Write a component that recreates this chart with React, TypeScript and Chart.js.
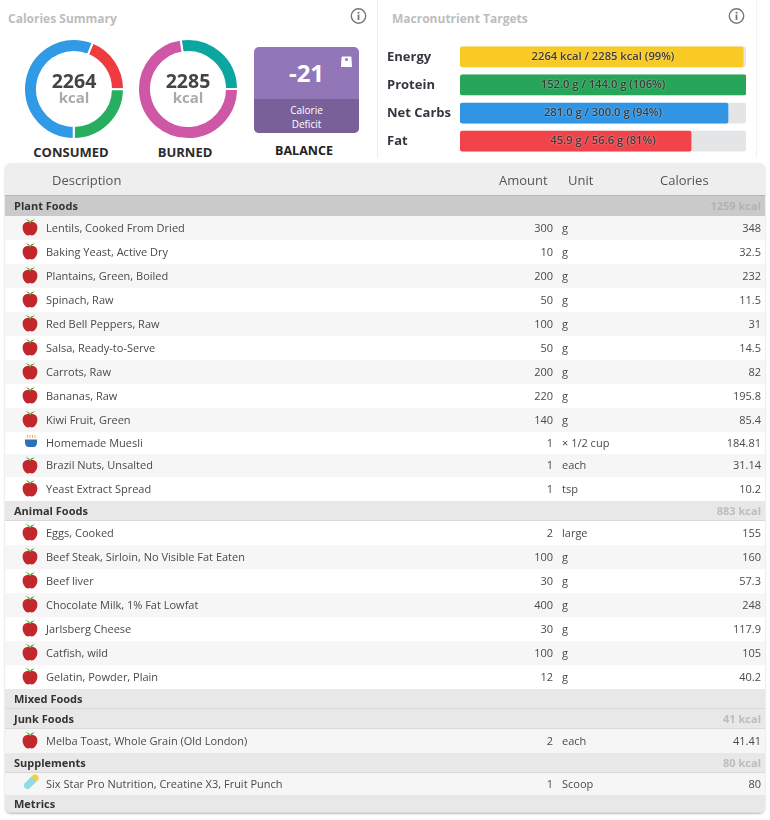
import React, { useEffect, useRef } from "react";
import { Chart, registerables } from "chart.js";

Chart.register(...registerables);

const FONT = '"Open Sans", sans-serif';

// donuts
const consumedLabels = ["Fat", "Protein", "Net Carbs"];
const consumedValues = [430, 566, 1268];
const consumedColors = ["#ef3b3f", "#29ae60", "#309ae6"];
const burnedLabels = ["Activity", "Resting"];
const burnedValues = [625, 1660];
const burnedColors = ["#0ca6a0", "#cf58a6"];

// macro targets
const macroLabels = ["Energy", "Protein", "Net Carbs", "Fat"];
const macroPercents = [99, 100, 93.7, 80.8];
const macroTrack = [100, 100, 100, 100];
const macroTexts = [
  "2264 kcal / 2285 kcal (99%)",
  "152.0 g / 144.0 g (106%)",
  "281.0 g / 300.0 g (94%)",
  "45.9 g / 56.6 g (81%)",
];
const macroColors = ["#f9ca24", "#27a558", "#3095e5", "#f0434a"];

// table: description, amount, unit, calories
type Food = [string, string, string, string, string?];
const plantFoods: Food[] = [
  ["Lentils, Cooked From Dried", "300", "g", "348"],
  ["Baking Yeast, Active Dry", "10", "g", "32.5"],
  ["Plantains, Green, Boiled", "200", "g", "232"],
  ["Spinach, Raw", "50", "g", "11.5"],
  ["Red Bell Peppers, Raw", "100", "g", "31"],
  ["Salsa, Ready-to-Serve", "50", "g", "14.5"],
  ["Carrots, Raw", "200", "g", "82"],
  ["Bananas, Raw", "220", "g", "195.8"],
  ["Kiwi Fruit, Green", "140", "g", "85.4"],
  ["Homemade Muesli", "1", "× 1/2 cup", "184.81", "bowl"],
  ["Brazil Nuts, Unsalted", "1", "each", "31.14"],
  ["Yeast Extract Spread", "1", "tsp", "10.2"],
];
const animalFoods: Food[] = [
  ["Eggs, Cooked", "2", "large", "155"],
  ["Beef Steak, Sirloin, No Visible Fat Eaten", "100", "g", "160"],
  ["Beef liver", "30", "g", "57.3"],
  ["Chocolate Milk, 1% Fat Lowfat", "400", "g", "248"],
  ["Jarlsberg Cheese", "30", "g", "117.9"],
  ["Catfish, wild", "100", "g", "105"],
  ["Gelatin, Powder, Plain", "12", "g", "40.2"],
];
const mixedFoods: Food[] = [];
const junkFoods: Food[] = [["Melba Toast, Whole Grain (Old London)", "2", "each", "41.41"]];
const supplements: Food[] = [["Six Star Pro Nutrition, Creatine X3, Fruit Punch", "1", "Scoop", "80", "pill"]];
const metrics: Food[] = [];

const sections: [string, string, Food[]][] = [
  ["Plant Foods", "1259 kcal", plantFoods],
  ["Animal Foods", "883 kcal", animalFoods],
  ["Mixed Foods", "", mixedFoods],
  ["Junk Foods", "41 kcal", junkFoods],
  ["Supplements", "80 kcal", supplements],
  ["Metrics", "", metrics],
];

const box = (x: number, y: number, w: number, h: number): React.CSSProperties => ({
  position: "absolute",
  left: x,
  top: y,
  width: w,
  height: h,
});

const Donut = ({ x, labels, values, colors, rotation, total }: any) => {
  const canvas = useRef<HTMLCanvasElement>(null!);

  useEffect(() => {
    const chart = new Chart(canvas.current, {
      type: "doughnut",
      data: {
        labels,
        datasets: [{ data: values, backgroundColor: colors, borderColor: "#fff", borderWidth: 2 }],
      },
      options: {
        animation: false,
        responsive: false,
        rotation,
        cutout: "74%",
        layout: { padding: 0 },
        plugins: { legend: { display: false }, tooltip: { enabled: false } },
      },
      plugins: [
        {
          id: "centerText",
          afterDatasetsDraw(c: any) {
            const { ctx } = c;
            const arc = c.getDatasetMeta(0).data[0];
            ctx.save();
            ctx.textAlign = "center";
            ctx.textBaseline = "middle";
            ctx.font = `700 19.5px ${FONT}`;
            ctx.fillStyle = "#444";
            ctx.fillText(total, arc.x, arc.y - 6.5);
            ctx.font = `700 15px ${FONT}`;
            ctx.fillStyle = "#aaa";
            ctx.fillText("kcal", arc.x, arc.y + 10);
            ctx.restore();
          },
        },
      ],
    });
    return () => chart.destroy();
  }, []);

  return <canvas ref={canvas} width={102} height={102} style={{ ...box(x - 51, 38, 102, 102) }} />;
};

const barText = {
  id: "barText",
  afterDatasetsDraw(c: any) {
    const { ctx, chartArea, scales } = c;
    ctx.save();
    ctx.font = `600 11.2px ${FONT}`;
    ctx.fillStyle = "#3a3a3a";
    ctx.textAlign = "center";
    ctx.textBaseline = "middle";
    ctx.shadowColor = "rgba(255,255,255,0.6)";
    ctx.shadowBlur = 2;
    macroTexts.forEach((t, i) => {
      ctx.fillText(t, (chartArea.left + chartArea.right) / 2, scales.y.getPixelForValue(i));
    });
    ctx.restore();
  },
};

const MacroBars = () => {
  const canvas = useRef<HTMLCanvasElement>(null!);

  useEffect(() => {
    const chart = new Chart(canvas.current, {
      type: "bar",
      data: {
        labels: macroLabels,
        datasets: [
          { data: macroPercents, backgroundColor: macroColors, borderRadius: { topLeft: 3, bottomLeft: 3, topRight: 2, bottomRight: 2 }, borderSkipped: false, barThickness: 20 },
          { data: macroTrack, backgroundColor: "#e4e5e7", borderRadius: 3, borderSkipped: false, barThickness: 20 },
        ],
      },
      options: {
        animation: false,
        responsive: false,
        indexAxis: "y",
        layout: { padding: 0 },
        datasets: { bar: { grouped: false } },
        scales: {
          x: { display: false, min: 0, max: 100 },
          y: {
            grid: { display: false },
            border: { display: false },
            afterFit: (s: any) => {
              s.width = 73;
            },
            ticks: {
              crossAlign: "far",
              padding: 0,
              color: "#3a3440",
              font: { family: FONT, size: 13, weight: "bold" },
            },
          },
        },
        plugins: { legend: { display: false }, tooltip: { enabled: false } },
      } as any,
      plugins: [barText],
    });
    return () => chart.destroy();
  }, []);

  // the y scale keeps half a label of padding above and below, hence the taller canvas
  return <canvas ref={canvas} width={359} height={128} style={box(387, 35, 359, 128)} />;
};

const InfoIcon = ({ x }: { x: number }) => (
  <svg style={box(x, 8, 17, 17)} viewBox="0 0 17 17">
    <circle cx="8.5" cy="8" r="7.2" fill="none" stroke="#777" strokeWidth="1.4" />
    <rect x="7.6" y="6.600" width="1.8" height="5.400" fill="#777" />
    <rect x="7.6" y="3.800" width="1.8" height="1.800" fill="#777" />
  </svg>
);

const FoodIcon = ({ kind }: { kind?: string }) => {
  if (kind === "bowl")
    return (
      <svg width="16" height="16" viewBox="0 0 16 16" style={{ position: "absolute", left: 18, top: 2 }}>
        <path d="M4.500 1v3M7 1v3M9.500 1v3M12 1v3" stroke="#f0b04a" strokeWidth="1" />
        <path d="M2 5.500h12v3c0 3-2 4.500-3 4.500H5c-1 0-3-1.500-3-4.500z" fill="#2f6fb5" />
      </svg>
    );
  if (kind === "pill")
    return (
      <svg width="18" height="16" viewBox="0 0 18 16" style={{ position: "absolute", left: 17, top: 1 }}>
        <path d="M10 7L13 4" stroke="#f7cf3d" strokeWidth="7" strokeLinecap="round" />
        <path d="M5.500 11.500L9.500 7.500" stroke="#8fdde0" strokeWidth="7" strokeLinecap="round" />
      </svg>
    );
  return (
    <svg width="16" height="18" viewBox="0 0 16 18" style={{ position: "absolute", left: 17, top: 2 }}>
      <path d="M8 4.500C5 3.300 .6 4.800 .6 9.500 .6 14 4 17.500 6 17.500c1 0 1.300-.5 2-.5s1 .5 2 .5c2 0 5.400-3.500 5.400-8C15.400 4.800 11 3.300 8 4.500z" fill="#c1272d" />
      <path d="M8 5.200L3.500 .6 7 2.400 8 3.800 9.500 2.200 13 1.200z" fill="#5aa02c" />
    </svg>
  );
};

const Table = () => {
  const rows: React.ReactNode[] = [];
  let n = 0;
  let top = 33;
  sections.forEach(([name, total, foods], s) => {
    const h = name === "Metrics" ? 18 : 20;
    rows.push(
      <div
        key={name}
        style={{
          ...box(0, top, 760, h),
          background: s === 0 ? "#cacaca" : "#e8e8e8",
          borderBottom: s === 0 ? "none" : "1px solid #d9d9d9",
          boxSizing: "border-box",
          fontSize: 11,
          fontWeight: 700,
          lineHeight: `${h - 1}px`,
          color: "#333",
        }}
      >
        <span style={{ position: "absolute", left: 9 }}>{name}</span>
        <span style={{ position: "absolute", right: 4, color: s === 0 ? "#b2b2b2" : "#bdbdbd" }}>{total}</span>
      </div>
    );
    top += h;
    n++;
    foods.forEach(([desc, amount, unit, cal, icon]) => {
      const rowH = icon ? 22 : desc.startsWith("Brazil") ? 23 : 24;
      rows.push(
        <div
          key={desc}
          style={{
            ...box(0, top, 760, rowH),
            background: n % 2 === 0 ? "#ffffff" : "#f6f6f6",
            fontSize: 11,
            lineHeight: `${rowH === 23 ? 22 : rowH}px`,
            color: "#4a4a4a",
          }}
        >
          <FoodIcon kind={icon} />
          <span style={{ position: "absolute", left: 41 }}>{desc}</span>
          <span style={{ position: "absolute", right: 212 }}>{amount}</span>
          <span style={{ position: "absolute", left: 557 }}>{unit}</span>
          <span style={{ position: "absolute", right: 4 }}>{cal}</span>
        </div>
      );
      top += rowH;
      n++;
    });
  });

  return (
    <div
      style={{
        ...box(5, 163, 760, 650),
        background: "#eeeeee",
        borderRadius: 6,
        overflow: "hidden",
        boxShadow: "0 1px 2px rgba(0,0,0,0.25)",
      }}
    >
      <div style={{ ...box(0, 0, 760, 33), borderBottom: "1px solid #b5b5b5", boxSizing: "border-box", fontSize: 13, lineHeight: "34px", color: "#555" }}>
        <span style={{ position: "absolute", left: 47 }}>Description</span>
        <span style={{ position: "absolute", left: 494 }}>Amount</span>
        <span style={{ position: "absolute", left: 563 }}>Unit</span>
        <span style={{ position: "absolute", left: 655 }}>Calories</span>
      </div>
      {rows}
    </div>
  );
};

const donutLabel: React.CSSProperties = { position: "absolute", width: 100, textAlign: "center", fontWeight: 700, fontSize: 13, color: "#2b2b2b", top: 144, lineHeight: "16px" };
const title: React.CSSProperties = { position: "absolute", top: 10, fontWeight: 700, fontSize: 12, color: "#bdbdbd", lineHeight: "18px" };

export default function App() {
  useEffect(() => {
    document.body.style.margin = "0";
    document.body.style.background = "#fff";
  }, []);

  return (
    <div style={{ position: "relative", width: 770, height: 820, overflow: "hidden", fontFamily: FONT, background: "#fff" }}>
      <div style={{ ...title, left: 8 }}>Calories Summary</div>
      <InfoIcon x={350} />
      <Donut x={74} labels={consumedLabels} values={consumedValues} colors={consumedColors} rotation={22} total="2264" />
      <Donut x={188} labels={burnedLabels} values={burnedValues} colors={burnedColors} rotation={-8.5} total="2285" />
      <div style={{ ...donutLabel, left: 21 }}>CONSUMED</div>
      <div style={{ ...donutLabel, left: 135 }}>BURNED</div>

      <div style={{ ...box(254, 47, 105, 86), background: "#9277b8", borderRadius: 5, overflow: "hidden", color: "#fff", textAlign: "center" }}>
        <div style={{ position: "absolute", top: 10, width: "100%", fontSize: 24, fontWeight: 700, lineHeight: "32px" }}>-21</div>
        <svg style={box(86, 8, 13, 13)} viewBox="0 0 13 13">
          <path d="M1.500 2.500Q1.500 1.500 2.500 1.500H10.500Q11.500 1.500 11.500 2.500L12 12H1z" fill="#fff" />
          <circle cx="6.500" cy="4.500" r="1.500" fill="#9277b8" />
        </svg>
        <div style={{ ...box(0, 52, 105, 34), background: "#7a6098", fontSize: 10, lineHeight: "14px", paddingTop: 4 }}>
          Calorie<br />Deficit
        </div>
      </div>
      <div style={{ ...donutLabel, left: 254, top: 143, fontSize: 12.5, color: "#222" }}>BALANCE</div>

      <div style={{ ...box(377, 0, 1, 158), background: "#eeeeee" }} />
      <div style={{ ...box(756, 0, 1, 158), background: "#f2f2f2" }} />
      <div style={{ ...title, left: 392 }}>Macronutrient Targets</div>
      <InfoIcon x={728} />
      <MacroBars />

      <Table />
    </div>
  );
}
